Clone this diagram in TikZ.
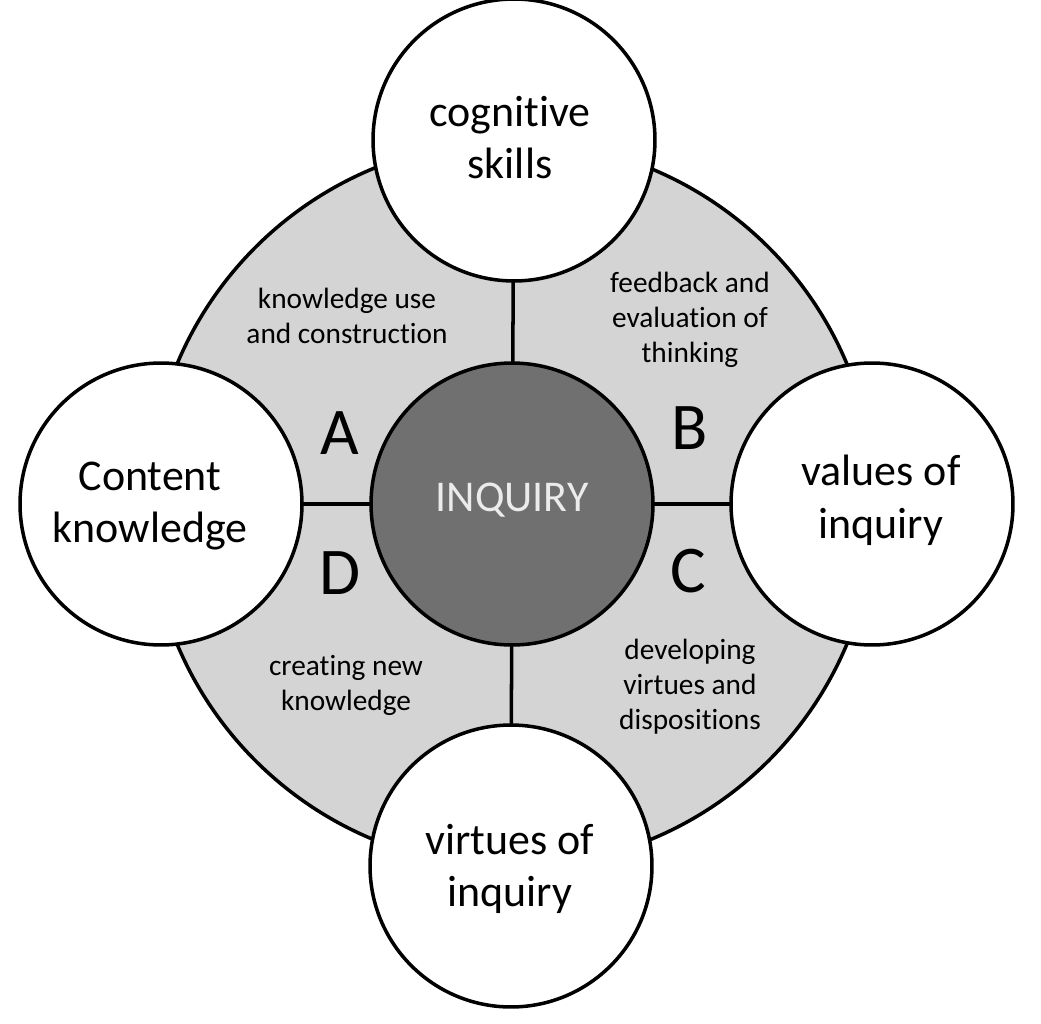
\documentclass[tikz,border=0pt]{standalone}
\usepackage{fontspec}
\setmainfont{Carlito}[RawFeature=-liga]
\usepackage{tikz}

\tikzset{
  disc/.style={circle, draw, line width=2pt, inner sep=0pt, outer sep=0pt},
  pillar/.style={disc, fill=white, minimum size=5.64cm},
  pillartext/.style={align=center, inner sep=0pt, font=\fontsize{25}{30}\selectfont},
  region/.style={align=center, inner sep=0pt, font=\fontsize{16.7}{20}\selectfont},
  letter/.style={inner sep=0pt, font=\fontsize{38}{38}\selectfont},
  spoke/.style={line width=2pt}
}

\begin{document}
\begin{tikzpicture}[x=0.02cm, y=-0.02cm]
  \useasboundingbox (0,0) rectangle (1041,1024);

  \node[disc, fill=black!17, minimum size=14.52cm] (field) at (512,504) {};

  \node[disc, fill=black!56, minimum size=5.64cm] (inquiry) at (512,504) {};
  \node[pillartext, text=white!92!black] (inquirytext) at (512,500) {INQUIRY};

  \node[pillar] (skills)  at (514,140) {};
  \node[pillar] (content) at (161,504) {};
  \node[pillar] (values)  at (872,504) {};
  \node[pillar] (virtues) at (511,866) {};

  \foreach \x in {skills,content,values,virtues}
  { \draw[spoke] (inquiry) -- (\x);
  }

  \node[pillartext] (skillstext)  at (510,137.5) {cognitive\\skills};
  \node[pillartext] (contenttext) at (150,506) {Content\\knowledge};
  \node[pillartext] (valuestext)  at (881,500) {values of\\inquiry};
  \node[pillartext] (virtuestext) at (510,869) {virtues of\\inquiry};

  \node[letter] (a) at (340,433) {A};
  \node[letter] (b) at (690,428) {B};
  \node[letter] (c) at (688,571) {C};
  \node[letter] (d) at (340,573) {D};

  \node[region] (use)      at (347,316) {knowledge use\\and construction};
  \node[region] (feedback) at (690,320) {feedback and\\evaluation of\\thinking};
  \node[region] (develop)  at (690,686.5) {developing\\virtues and\\dispositions};
  \node[region] (creating) at (346,685) {creating new\\knowledge};
\end{tikzpicture}
\end{document}
